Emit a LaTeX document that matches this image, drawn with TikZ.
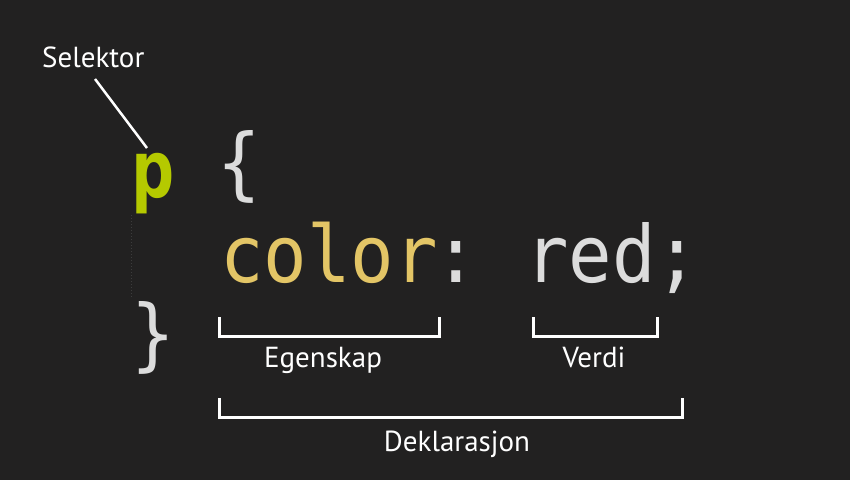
\documentclass[tikz,border=0pt]{standalone}
\usepackage{fontspec}
\setmainfont{PT Sans}
\newfontfamily\codefont[FakeStretch=0.915]{DejaVu Sans Mono}
\definecolor{bg}{HTML}{222121}
\definecolor{selgreen}{HTML}{B5C900}
\definecolor{propgold}{HTML}{E3C566}
\definecolor{codegray}{HTML}{DCDCDC}
\definecolor{guidegray}{HTML}{3C3C3C}
\tikzset{
  code/.style={anchor=base west, inner sep=0pt, text=codegray, font=\codefont\fontsize{79}{90}\selectfont},
  lbl/.style={anchor=base, inner sep=0pt, text=white, font=\fontsize{29}{34}\selectfont},
  bracket/.style={draw=white, line width=3pt, line join=miter},
  pointer/.style={draw=white, line width=2.5pt},
  guide/.style={draw=guidegray, line width=1pt, dotted}
}
\begin{document}
\begin{tikzpicture}[x=1pt, y=-1pt]
\useasboundingbox (0,0) rectangle (850,480);
\fill[bg] (0,0) rectangle (850,480);
% code
\node[code, text=selgreen, font=\codefont\bfseries\fontsize{79}{90}\selectfont] (p) at (131,197) {p};
\node[code] (ob) at (217,190) {\{};
\node[code, text=propgold] (prop) at (220,282) {color};
\node[code] (colon) at ([xshift=-4pt]prop.base east) {:};
\node[code] (val) at (525,282) {red;};
\node[code] (cb) at (131,361) {\}};
\draw[guide] (131,215) -- (131,297);
% labels
\node[lbl, anchor=base west] (sel) at (42,67) {Selektor};
\node[lbl] (egen) at (323,367) {Egenskap};
\node[lbl] (verdi) at (594,367) {Verdi};
\node[lbl] (dekl) at (457,451) {Deklarasjon};
% pointer
\coordinate (selstart) at (95,79);
\coordinate (selend) at (147,148);
\draw[pointer] (selstart) -- (selend);
% brackets
\draw[bracket] (219,317) -- (219,336) -- (439,336) -- (439,317);
\draw[bracket] (533,317) -- (533,336) -- (657,336) -- (657,317);
\draw[bracket] (219,398) -- (219,417) -- (682,417) -- (682,398);
\end{tikzpicture}
\end{document}
